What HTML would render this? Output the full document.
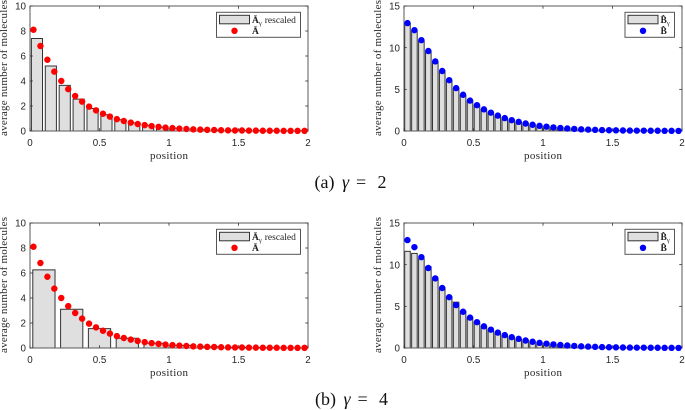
<!DOCTYPE html>
<html>
<head>
<meta charset="utf-8">
<title>Average number of molecules by position</title>
<style>
html,body{margin:0;padding:0;background:#fff;}
svg{display:block;}
.tick{font-family:"Liberation Sans",sans-serif;font-size:9.8px;fill:#262626;}
.lab{font-family:"Liberation Serif",serif;font-size:11px;fill:#262626;}
.leg{font-family:"Liberation Serif",serif;font-size:9.5px;fill:#222;}
.cap{font-family:"Liberation Serif",serif;font-size:18px;fill:#111;}
</style>
</head>
<body>
<svg id="fig" width="685" height="410" viewBox="0 0 685 410" xmlns="http://www.w3.org/2000/svg">
  <text class="cap" y="188"><tspan x="314.5">(a)</tspan><tspan x="342" font-style="italic">γ</tspan><tspan x="356">=</tspan><tspan x="377.5">2</tspan></text>
  <text class="cap" y="405"><tspan x="315">(b)</tspan><tspan x="343.5" font-style="italic">γ</tspan><tspan x="357.5">=</tspan><tspan x="379">4</tspan></text>
</svg>
<script>
var dotsA = [8.1,6.8,5.7,4.75,4.0,3.35,2.8,2.35,1.95,1.65,1.38,1.15,0.95,0.8,0.67,0.56,0.47,0.39,0.33,0.27,0.23,0.19,0.16,0.13,0.11,0.09,0.08,0.06,0.05,0.04,0.04,0.03,0.03,0.02,0.02,0.02,0.01,0.01,0.01,0.01];
var dotsB = [12.95,12.1,10.9,9.6,8.35,7.2,6.1,5.15,4.35,3.65,3.1,2.6,2.2,1.85,1.55,1.3,1.1,0.9,0.75,0.62,0.52,0.43,0.36,0.3,0.25,0.2,0.17,0.14,0.11,0.09,0.08,0.06,0.05,0.04,0.04,0.03,0.03,0.02,0.02,0.01];
var barsAGamma2 = [7.4,5.2,3.65,2.55,1.8,1.3,0.9,0.65,0.45,0.3,0.22,0.16,0.11,0.08,0.05,0.04,0.03,0.02,0.01,0.01];
var barsAGamma4 = [6.25,3.1,1.55,0.78,0.38,0.2,0.1,0.05,0.03,0.01];
var barsBGamma2 = [12.9,12.0,10.8,9.5,8.3,7.1,6.05,5.1,4.3,3.6,3.05,2.55,2.15,1.8,1.5,1.27,1.05,0.88,0.72,0.6,0.5,0.42,0.35,0.29,0.24,0.2,0.16,0.13,0.11,0.09,0.07,0.06,0.05,0.04,0.03,0.03,0.02,0.02,0.01,0.01];
var barsBGamma4 = [11.6,11.35,10.7,9.75,8.4,7.2,6.15,5.5,4.4,3.6,3.05,2.55,2.15,1.8,1.5,1.25,1.05,0.88,0.72,0.6,0.5,0.42,0.35,0.29,0.24,0.2,0.16,0.13,0.11,0.09,0.07,0.06,0.05,0.04,0.03,0.03,0.02,0.02,0.01,0.01];
var xTicks = [0,0.5,1,1.5,2];
var yTicksA = [0,2,4,6,8,10];
var yTicksB = [0,5,10,15];
var xAxisTitle = 'position';
var yAxisTitle = 'average number of molecules';

var NS = 'http://www.w3.org/2000/svg';
var fig = document.getElementById('fig');

function make(parent, tag, attrs, text) {
  var el = document.createElementNS(NS, tag);
  for (var k in attrs) { el.setAttribute(k, attrs[k]); }
  if (text !== undefined) { el.textContent = text; }
  parent.appendChild(el);
  return el;
}

function drawPanel(cfg) {
  var left = cfg.left, right = left + 278, top = cfg.top, bottom = top + 125;
  function xs(v) { return left + (v / 2) * (right - left); }
  function ys(v) { return bottom - (v / cfg.yMax) * (bottom - top); }

  var g = make(fig, 'g', {});
  
  

  var binW = 2 / cfg.bars.length;
  cfg.bars.forEach(function (v, i) {
    var x0 = xs(binW * i + binW * 0.1), x1 = xs(binW * i + binW * 0.9);
    var bar = make(g, 'rect', {x: x0, y: ys(v), width: x1 - x0, height: bottom - ys(v), fill: '#dfdfdf', stroke: '#333', 'stroke-width': 1});
    
    
  });

  var frame = make(g, 'rect', {x: left, y: top, width: right - left, height: bottom - top, fill: 'none', stroke: '#5a5a5a', 'stroke-width': 1});
  
  

  xTicks.forEach(function (t) {
    var x = xs(t);
    make(g, 'line', {x1: x, x2: x, y1: bottom, y2: bottom - 2.8, stroke: '#333', 'stroke-width': 0.8});
    make(g, 'line', {x1: x, x2: x, y1: top, y2: top + 2.8, stroke: '#333', 'stroke-width': 0.8});
    var lab = make(g, 'text', {'class': 'tick', x: x, y: bottom + 15, 'text-anchor': 'middle'}, String(t));
    
    
  });
  cfg.yTicks.forEach(function (t) {
    var y = ys(t);
    make(g, 'line', {x1: left, x2: left + 2.8, y1: y, y2: y, stroke: '#333', 'stroke-width': 0.8});
    make(g, 'line', {x1: right, x2: right - 2.8, y1: y, y2: y, stroke: '#333', 'stroke-width': 0.8});
    var lab = make(g, 'text', {'class': 'tick', x: left - 4, y: y + 3.6, 'text-anchor': 'end'}, String(t));
    
    
  });

  var xt = make(g, 'text', {'class': 'lab', x: (left + right) / 2, y: bottom + 28, 'text-anchor': 'middle', textLength: 38, lengthAdjust: 'spacing'}, xAxisTitle);
  
  

  var yx = left - 23, yy = top + 62;
  var yt = make(g, 'text', {'class': 'lab', x: 0, y: 0, 'text-anchor': 'middle', textLength: 136, lengthAdjust: 'spacing', transform: 'translate(' + yx + ',' + yy + ') rotate(-90)'}, yAxisTitle);
  
  

  cfg.dots.forEach(function (v, i) {
    var c = make(g, 'circle', {cx: xs((i + 0.5) * 0.05), cy: ys(v), r: 3.2, fill: cfg.color});
    
    
  });

  var lg = make(g, 'g', {});
  
  
  var bx = cfg.legendLeft, by = top + 6.3;
  make(lg, 'rect', {x: bx, y: by, width: cfg.legendWidth, height: 25, fill: '#fff', stroke: '#555', 'stroke-width': 1});
  var sw = make(lg, 'rect', {x: bx + 3, y: by + 3, width: 30, height: 8.5, fill: '#dfdfdf', stroke: '#333', 'stroke-width': 1});
  
  
  var ld = make(lg, 'circle', {cx: bx + 18, cy: by + 18.5, r: 3.2, fill: cfg.color});
  
  
  var t1 = make(lg, 'text', {'class': 'leg', x: bx + 35.5, y: by + 10.5});
  
  
  make(t1, 'tspan', {'font-weight': 'bold'}, cfg.letter);
  make(t1, 'tspan', {'font-size': '6.5', dy: '2'}, 'γ');
  if (cfg.suffix) { make(t1, 'tspan', {dy: '-2', dx: '3'}, cfg.suffix); }
  var t2 = make(lg, 'text', {'class': 'leg', x: bx + 35.5, y: by + 21.5, 'font-weight': 'bold'}, cfg.letter);
  
  
}

drawPanel({name: 'panel-a-gamma-2', left: 30, top: 6, yMax: 10, yTicks: yTicksA, bars: barsAGamma2, dots: dotsA, color: '#ff0000', letter: 'Ā', suffix: 'rescaled', legendLeft: 216.5, legendWidth: 84});
drawPanel({name: 'panel-b-gamma-2', left: 404, top: 6, yMax: 15, yTicks: yTicksB, bars: barsBGamma2, dots: dotsB, color: '#0000ff', letter: 'B̂', suffix: '', legendLeft: 625, legendWidth: 49.5});
drawPanel({name: 'panel-a-gamma-4', left: 30, top: 223, yMax: 10, yTicks: yTicksA, bars: barsAGamma4, dots: dotsA, color: '#ff0000', letter: 'Ā', suffix: 'rescaled', legendLeft: 216.5, legendWidth: 84});
drawPanel({name: 'panel-b-gamma-4', left: 404, top: 223, yMax: 15, yTicks: yTicksB, bars: barsBGamma4, dots: dotsB, color: '#0000ff', letter: 'B̂', suffix: '', legendLeft: 625, legendWidth: 49.5});
</script>
</body>
</html>
